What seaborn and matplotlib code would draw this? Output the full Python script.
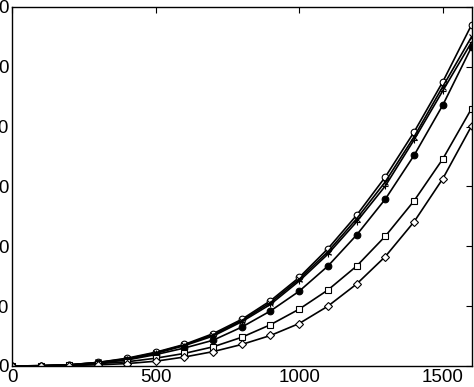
import matplotlib
matplotlib.use("Agg")
import matplotlib.pyplot as plt
import seaborn as sns
import numpy as np
import pandas as pd

x_vals = [0, 100, 200, 300, 400, 500, 600, 700, 800, 900, 1000, 1100, 1200, 1300, 1400, 1500, 1600]
s_circle = [0, 0.5, 2, 6, 13, 23, 36, 54, 78, 109, 148, 196, 252, 316, 391, 475, 570]
s_cross = [0, 0.5, 2, 6, 12, 22, 35, 52, 76, 106, 145, 191, 246, 308, 383, 467, 550]
s_plus = [0, 0.5, 2, 5.5, 11, 21, 34, 50, 74, 103, 142, 187, 241, 301, 378, 460, 541]
s_filled = [0, 0.4, 1.5, 5, 10, 19, 30, 43, 65, 92, 125, 167, 219, 279, 352, 436, 533]
s_square = [0, 0.3, 1.5, 4, 7, 13, 21, 32, 48, 69, 95, 127, 167, 217, 276, 346, 430]
s_diamond = [0, 0.2, 0.8, 2, 4, 8, 15, 24, 36, 51, 71, 100, 137, 183, 241, 313, 401]

y_ticks = [0, 100, 200, 300, 400, 500, 600]
x_ticks = [0, 500, 1000, 1500]

sns.set_style("white")
plt.rcParams['font.family'] = ['Liberation Sans', 'DejaVu Sans']

fig = plt.figure(figsize=(4.74, 3.87), dpi=100)
ax = fig.add_axes([12 / 474, 21 / 387, 459.5 / 474, 359 / 387])

series = [
    (s_circle, 'o', 'white'),
    (s_cross, 'x', 'none'),
    (s_plus, '+', 'none'),
    (s_filled, 'o', 'black'),
    (s_square, 's', 'white'),
    (s_diamond, 'D', 'white'),
]
for vals, mk, fc in series:
    df = pd.DataFrame({'x': x_vals, 'y': vals})
    sns.lineplot(data=df, x='x', y='y', ax=ax, color='black', linewidth=1.2,
                 marker=mk, markersize=4.8 if mk != 'D' else 4.0,
                 markerfacecolor=fc, markeredgecolor='black', markeredgewidth=0.8)

ax.set_xlim(0, 1600)
ax.set_ylim(0, 600)
ax.set_xticks(x_ticks)
ax.set_yticks(y_ticks)
ax.set_xlabel('')
ax.set_ylabel('')
ax.tick_params(direction='in', length=4, width=0.8, top=True, right=True,
               labelsize=13.5, colors='black', pad=2)
for sp in ax.spines.values():
    sp.set_color('black')
    sp.set_linewidth(1.0)
    sp.set_visible(True)

fig.savefig('out.png', dpi=100)
